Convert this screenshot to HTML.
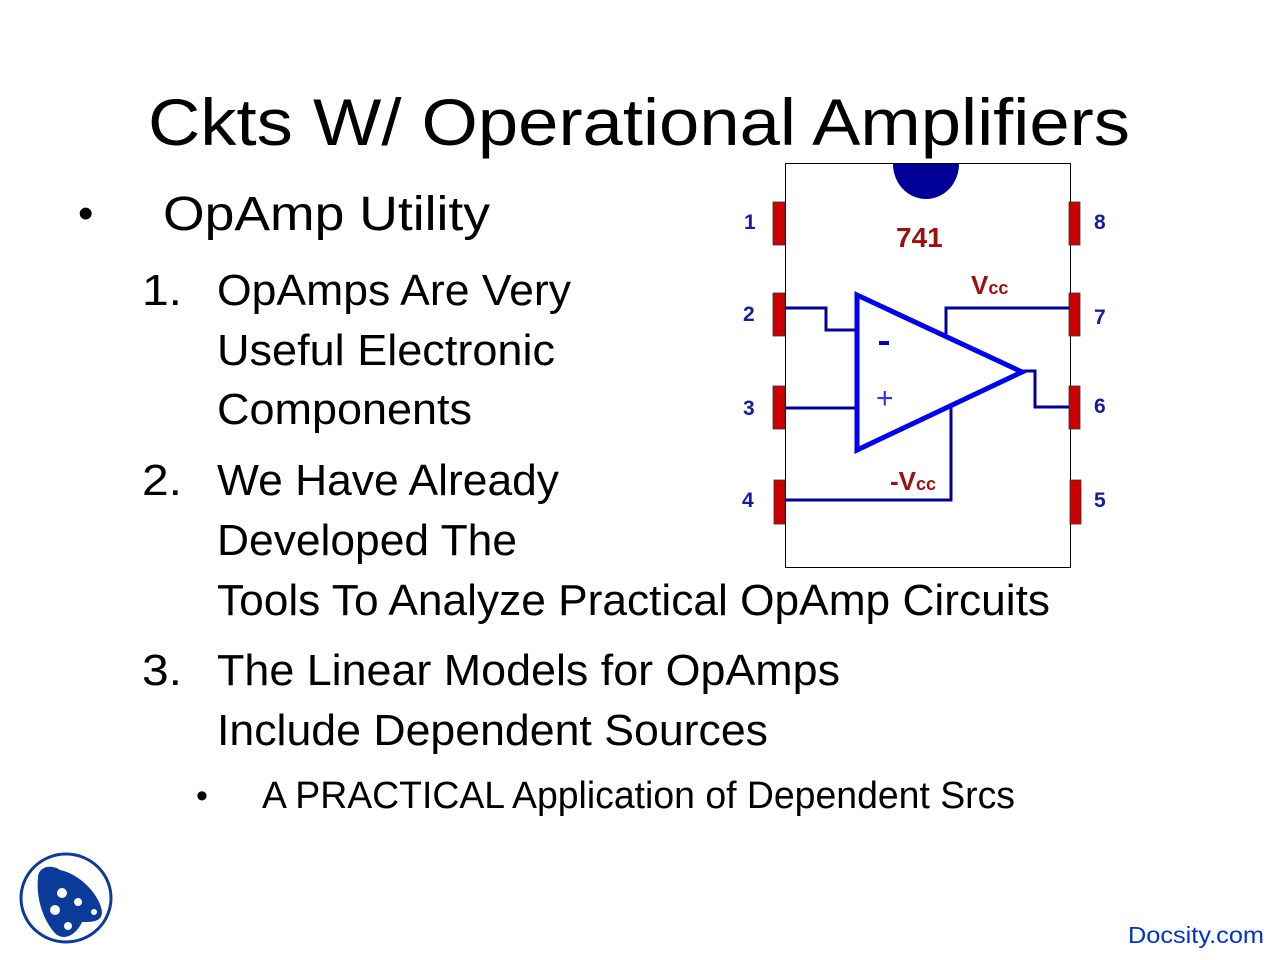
<!DOCTYPE html>
<html><head><meta charset="utf-8"><style>
html,body{margin:0;padding:0;background:#fff;}
svg{display:block;}
text{font-family:"Liberation Sans",sans-serif;}
</style></head><body>
<svg width="1280" height="960" viewBox="0 0 1280 960" xmlns="http://www.w3.org/2000/svg">
<rect width="1280" height="960" fill="#fff"/>
<text x="148" y="145" font-size="66" textLength="982" lengthAdjust="spacingAndGlyphs" fill="#000">Ckts W/ Operational Amplifiers</text>
<g fill="#000">
<text x="78" y="228" font-size="44">•</text>
<text x="163" y="230" font-size="48" textLength="327" lengthAdjust="spacingAndGlyphs">OpAmp Utility</text>
<text x="142" y="305" font-size="44" textLength="40" lengthAdjust="spacingAndGlyphs">1.</text>
<text x="217" y="305" font-size="44" textLength="354" lengthAdjust="spacingAndGlyphs">OpAmps Are Very</text>
<text x="217" y="365" font-size="44" textLength="338" lengthAdjust="spacingAndGlyphs">Useful Electronic</text>
<text x="217" y="424" font-size="44" textLength="255" lengthAdjust="spacingAndGlyphs">Components</text>
<text x="142" y="495" font-size="44" textLength="40" lengthAdjust="spacingAndGlyphs">2.</text>
<text x="217" y="495" font-size="44" textLength="342" lengthAdjust="spacingAndGlyphs">We Have Already</text>
<text x="217" y="555" font-size="44" textLength="300" lengthAdjust="spacingAndGlyphs">Developed The</text>
<text x="217" y="615" font-size="44" textLength="833" lengthAdjust="spacingAndGlyphs">Tools To Analyze Practical OpAmp Circuits</text>
<text x="142" y="685" font-size="44" textLength="40" lengthAdjust="spacingAndGlyphs">3.</text>
<text x="217" y="685" font-size="44" textLength="623" lengthAdjust="spacingAndGlyphs">The Linear Models for OpAmps</text>
<text x="217" y="745" font-size="44" textLength="551" lengthAdjust="spacingAndGlyphs">Include Dependent Sources</text>
<text x="196" y="807" font-size="34">•</text>
<text x="262" y="808" font-size="38" textLength="753" lengthAdjust="spacingAndGlyphs">A PRACTICAL Application of Dependent Srcs</text>
</g>
<!-- chip -->
<rect x="785.5" y="163.5" width="285" height="404" fill="#fff" stroke="#000" stroke-width="1"/>
<path d="M893 164 A33 35 0 0 0 959 164 Z" fill="#000099"/>
<g fill="#cc0000" stroke="#333" stroke-width="0.8">
<rect x="773" y="202" width="12" height="43"/><rect x="773" y="293" width="12" height="43"/>
<rect x="773" y="386" width="12" height="43"/><rect x="774" y="480" width="11" height="44"/>
<rect x="1069" y="202" width="11" height="43"/><rect x="1069" y="293" width="11" height="43"/>
<rect x="1069" y="386" width="11" height="43"/><rect x="1070" y="480" width="11" height="44"/>
</g>
<g fill="#1a1aa0" font-size="21" font-weight="bold">
<text x="744" y="229">1</text><text x="743" y="321">2</text><text x="743" y="415">3</text><text x="742" y="507">4</text>
<text x="1094" y="229">8</text><text x="1094" y="324">7</text><text x="1094" y="413">6</text><text x="1094" y="507">5</text>
</g>
<g fill="none" stroke="#000099" stroke-width="3">
<polyline points="785,308 826,308 826,330 857,330"/>
<polyline points="785,408 857,408"/>
<polyline points="1069,308 946,308 946,334"/>
<polyline points="951,405 951,500 785,500"/>
<polyline points="1022,371 1035,371 1035,407 1069,407"/>
</g>
<polygon points="857,295 857,450 1022,372" fill="none" stroke="#0000ee" stroke-width="5" stroke-linejoin="miter"/>
<rect x="879" y="341" width="10" height="4" fill="#0000cc"/>
<text x="876" y="408" font-size="30" fill="#3333ee">+</text>
<text x="896" y="247" font-size="28" font-weight="bold" fill="#9c1010">741</text>
<text x="971" y="294" font-size="26" fill="#9c1010" font-weight="bold">V<tspan font-size="18">cc</tspan></text>
<text x="890" y="490" font-size="26" fill="#9c1010" font-weight="bold">-V<tspan font-size="18">cc</tspan></text>
<!-- logo -->
<ellipse cx="66" cy="898" rx="45" ry="44" fill="none" stroke="#0a3a9a" stroke-width="3"/>
<path d="M38 878 C38 866 52 864 60 870 C80 874 100 895 102 912 C102 922 92 922 82 922 C76 936 62 942 54 932 C42 918 36 896 38 878 Z" fill="#0a3a9a"/>
<circle cx="62" cy="893" r="5" fill="#fff"/><circle cx="55" cy="910" r="5" fill="#fff"/>
<circle cx="78" cy="902" r="4" fill="#fff"/><circle cx="68" cy="926" r="4" fill="#fff"/><circle cx="94" cy="912" r="3" fill="#fff"/>
<text x="1128" y="943" font-size="23" fill="#0033cc" textLength="136" lengthAdjust="spacingAndGlyphs">Docsity.com</text>
</svg>
</body></html>
